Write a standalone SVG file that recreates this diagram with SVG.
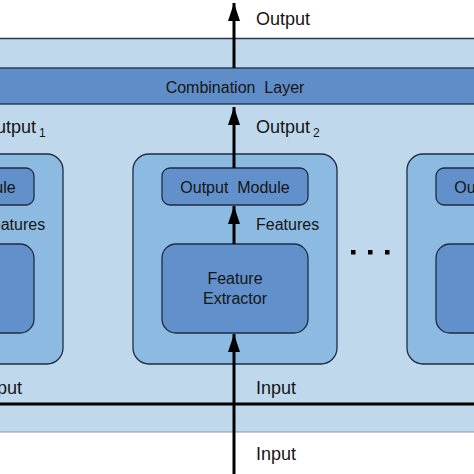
<svg xmlns="http://www.w3.org/2000/svg" width="474" height="474" viewBox="0 0 474 474">
<style>
text{font-family:"Liberation Sans",Arial,sans-serif;fill:#151515}
.mod{fill:#8DBAE0;stroke:#1E2B45;stroke-width:1.3}
.inner{fill:#6190CB;stroke:#1E2B45;stroke-width:1.3}
.arrow{stroke:#000;stroke-width:3;fill:none}
.lbl{font-size:18px}
.sm{font-size:16px}
.c{text-anchor:middle}
</style>
<defs>
<marker id="ah" markerUnits="userSpaceOnUse" markerWidth="20" markerHeight="14" viewBox="0 0 20 14" refX="19" refY="7" orient="auto">
<path d="M19 7 L1 1 L1 13 Z" fill="#000"/>
</marker>
</defs>
<rect width="474" height="474" fill="#fff"/>
<g id="panel">
<rect x="-2" y="38" width="478" height="394" fill="#BFD8EC"/>
<line x1="-2" y1="38.5" x2="476" y2="38.5" stroke="#2A3550" stroke-width="1.5"/>
<line x1="-2" y1="432" x2="476" y2="432" stroke="#8A97A6" stroke-width="1.2"/>
<line x1="-2" y1="404" x2="476" y2="404" stroke="#000" stroke-width="3"/>
</g>
<g id="combination-layer">
<rect x="-2" y="68" width="478" height="36" fill="#5F8DC8" stroke="#1E2B45" stroke-width="1.3"/>
<text x="235" y="93" class="sm c" xml:space="preserve">Combination  Layer</text>
</g>
<g id="module-1">
<rect x="-141" y="154" width="204" height="210" rx="16" class="mod"/>
<rect x="-112" y="168" width="146" height="37" rx="8" class="inner"/>
<text x="-39" y="193" class="sm c" xml:space="preserve">Output  Module</text>
<rect x="-112" y="244" width="146" height="89" rx="14" class="inner"/>
<text x="-18" y="133" class="lbl">Output<tspan font-size="12" dy="4" dx="3">1</tspan></text>
<text x="-18" y="230" class="sm">Features</text>
<text x="-18" y="394" class="lbl">Input</text>
</g>
<g id="module-2">
<rect x="133" y="154" width="204" height="210" rx="16" class="mod"/>
<rect x="162" y="168" width="146" height="37" rx="8" class="inner"/>
<text x="235" y="193" class="sm c" xml:space="preserve">Output  Module</text>
<rect x="162" y="244" width="146" height="89" rx="14" class="inner"/>
<text x="235" y="284" class="sm c">Feature</text>
<text x="235" y="304" class="sm c">Extractor</text>
<text x="256" y="133" class="lbl">Output<tspan font-size="12" dy="4" dx="3">2</tspan></text>
<text x="256" y="230" class="sm">Features</text>
<text x="256" y="394" class="lbl">Input</text>
</g>
<g id="module-n">
<rect x="407" y="154" width="204" height="210" rx="16" class="mod"/>
<rect x="436" y="168" width="146" height="37" rx="8" class="inner"/>
<text x="509" y="193" class="sm c" xml:space="preserve">Output  Module</text>
<rect x="436" y="244" width="146" height="89" rx="14" class="inner"/>
</g>
<g id="ellipsis" fill="#000">
<rect x="351" y="250" width="4.5" height="4.5"/>
<rect x="368" y="250" width="4.5" height="4.5"/>
<rect x="385" y="250" width="4.5" height="4.5"/>
</g>
<g id="labels">
<text x="256" y="25" class="lbl">Output</text>
<text x="256" y="460" class="lbl">Input</text>
</g>
<g id="connectors">
<line x1="234" y1="474" x2="234" y2="334" class="arrow" marker-end="url(#ah)"/>
<line x1="234" y1="244" x2="234" y2="206" class="arrow" marker-end="url(#ah)"/>
<line x1="234" y1="168" x2="234" y2="107" class="arrow" marker-end="url(#ah)"/>
<line x1="234" y1="68" x2="234" y2="3" class="arrow" marker-end="url(#ah)"/>
</g>
</svg>
